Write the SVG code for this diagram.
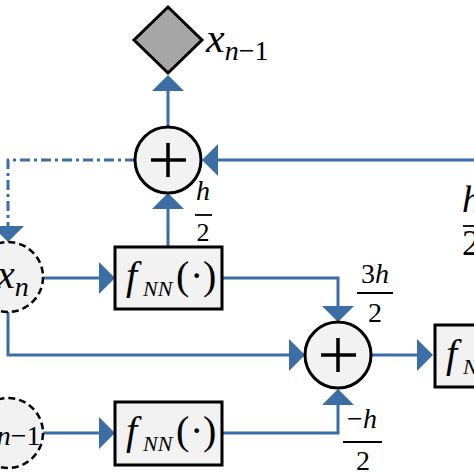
<svg xmlns="http://www.w3.org/2000/svg" width="474" height="474" viewBox="0 0 474 474">
<defs>
<style>
.bg{fill:#ffffff}
.edge{fill:none;stroke:#3a6ea5;stroke-width:3;marker-end:url(#ah)}
.dd{stroke-dasharray:10 4 3 4}
.box{fill:#f2f2f2;stroke:#000;stroke-width:3}
.dash{fill:#f2f2f2;stroke:#000;stroke-width:2.5;stroke-dasharray:7 4}
.sum{fill:#f2f2f2;stroke:#000;stroke-width:3}
.plus{fill:none;stroke:#000;stroke-width:3.5}
.bar{fill:none;stroke:#000;stroke-width:1.8}
.it{font-style:italic}
</style>
<marker id="ah" markerUnits="userSpaceOnUse" markerWidth="18" markerHeight="34" viewBox="0 0 18 34" refX="6" refY="16" orient="auto">
<path d="M0,0 L16,16 L0,32 z" fill="#3a6ea5"/>
</marker>
</defs>
<rect class="bg" x="0" y="0" width="474" height="474"/>

<g id="connectors">
<path class="edge" d="M168,127 V85"/>
<path class="edge" d="M474,160 H212"/>
<path class="edge dd" d="M135,160 H8 V232"/>
<path class="edge" d="M168,247 V203"/>
<path class="edge" d="M43,278 H105"/>
<path class="edge" d="M8,312 V355 H295"/>
<path class="edge" d="M222,278 H338 V312"/>
<path class="edge" d="M222,433 H338 V399"/>
<path class="edge" d="M43,433 H105"/>
<path class="edge" d="M371,355 H423"/>
</g>

<g font-family="'Liberation Serif', 'DejaVu Serif', serif" fill="#000">
<g id="out">
<polygon points="168,7 202,40 168,73 134,40" fill="#a6a6a6" stroke="#000" stroke-width="3"/>
<text x="206" y="52" font-size="42"><tspan class="it">x</tspan><tspan class="it" font-size="28" dy="8">n</tspan><tspan font-size="28">−1</tspan></text>
</g>

<g id="sum1">
<circle class="sum" cx="168" cy="160" r="33"/>
<path class="plus" d="M151,160 H186 M168,143 V177"/>
</g>

<g id="sum2">
<circle class="sum" cx="338" cy="355" r="33"/>
<path class="plus" d="M321,355 H356 M338,338 V372"/>
</g>

<g id="xn">
<circle class="dash" cx="8" cy="277" r="35"/>
<text x="-3" y="288" font-size="40"><tspan class="it">x</tspan><tspan class="it" font-size="28" dy="8">n</tspan></text>
</g>

<g id="xn1">
<circle class="dash" cx="8" cy="433" r="35"/>
<text x="-21" y="437" font-size="40"><tspan class="it">x</tspan><tspan class="it" font-size="28" dy="8">n</tspan><tspan font-size="28">−1</tspan></text>
</g>

<g id="fnn1">
<rect class="box" x="115" y="247" width="107" height="62"/>
<text y="289" font-size="40"><tspan class="it" x="126">f</tspan><tspan class="it" x="143" dy="7" font-size="22">NN</tspan><tspan x="176" dy="-7">(</tspan><tspan x="190">·</tspan><tspan x="203">)</tspan></text>
</g>

<g id="fnn2">
<rect class="box" x="115" y="402" width="107" height="63"/>
<text y="444" font-size="40"><tspan class="it" x="126">f</tspan><tspan class="it" x="143" dy="7" font-size="22">NN</tspan><tspan x="176" dy="-7">(</tspan><tspan x="190">·</tspan><tspan x="203">)</tspan></text>
</g>

<g id="fnn3">
<rect class="box" x="435" y="325" width="60" height="62"/>
<text y="367" font-size="40"><tspan class="it" x="446">f</tspan><tspan class="it" x="463" dy="7" font-size="22">NN</tspan></text>
</g>

<g id="labels">
<text x="203" y="200" font-size="28" text-anchor="middle" class="it">h</text>
<path class="bar" d="M195,215 H212"/>
<text x="203" y="241" font-size="26" text-anchor="middle">2</text>

<text x="375" y="283" font-size="28" text-anchor="middle">3<tspan class="it">h</tspan></text>
<path class="bar" d="M357,293 H393"/>
<text x="375" y="322" font-size="28" text-anchor="middle">2</text>

<text x="362" y="428" font-size="28" text-anchor="middle">−<tspan class="it">h</tspan></text>
<path class="bar" d="M343,442 H382"/>
<text x="363" y="470" font-size="28" text-anchor="middle">2</text>

<text x="462" y="212" font-size="38" class="it">h</text>
<path class="bar" d="M463,226 H480"/>
<text x="462" y="255" font-size="36">2</text>
</g>
</g>
</svg>
